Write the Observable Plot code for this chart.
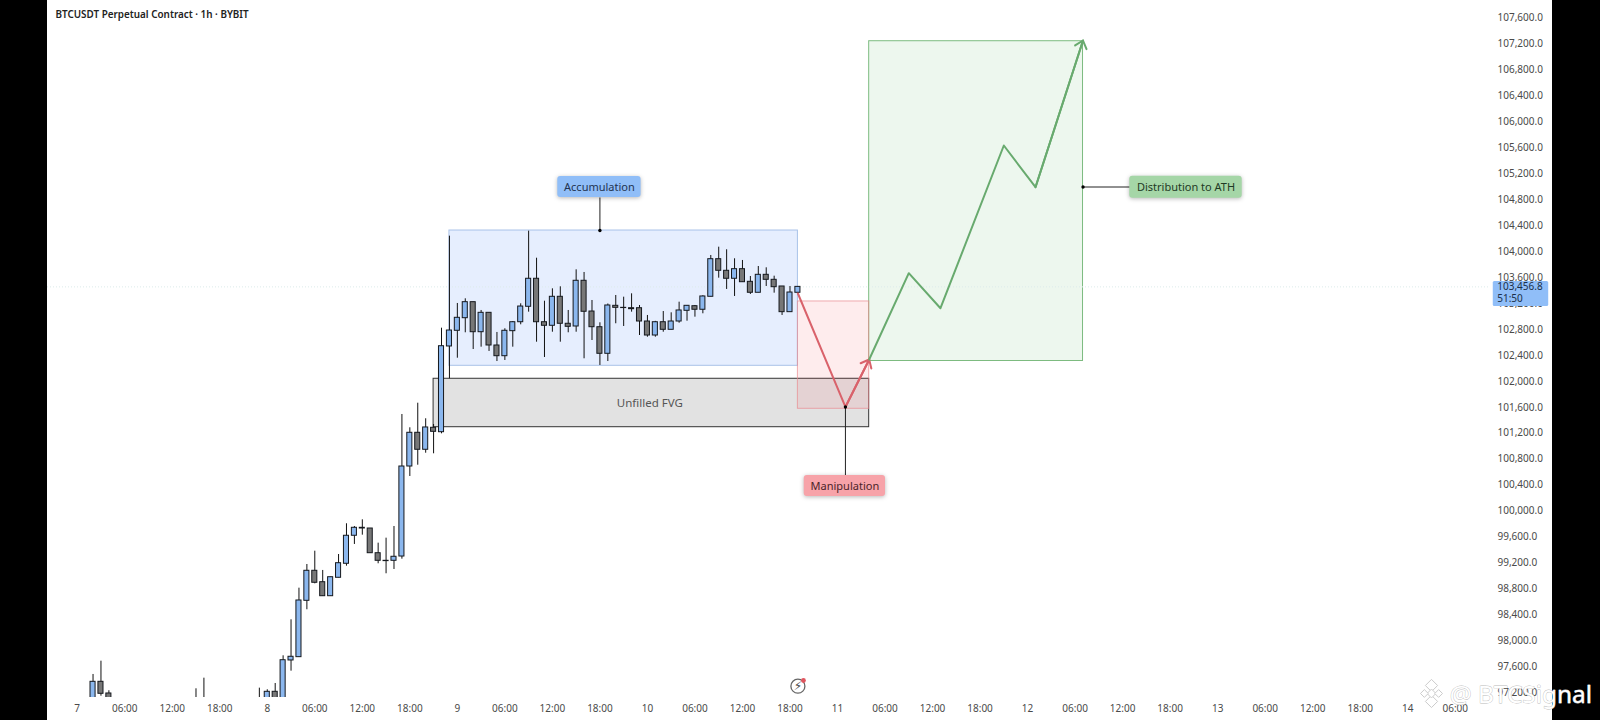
<!DOCTYPE html>
<html>
<head>
<meta charset="utf-8">
<script src="https://cdn.jsdelivr.net/npm/d3@7"></script>
<script src="https://cdn.jsdelivr.net/npm/@observablehq/plot@0.6"></script>
<style>
html,body{margin:0;padding:0;background:#fff;overflow:hidden}
svg{display:block}
.lab{filter:drop-shadow(0 1px 2px rgba(0,0,0,.28))}
</style>
</head>
<body>
<div id="chart"></div>
<script>
// Hours counted from day 7, 00:00
const hours = [2,3,4,15,16,23,24,25,26,27,28,29,30,31,32,33,34,35,36,37,38,39,40,41,42,43,44,45,46,47,48,49,50,51,52,53,54,55,56,57,58,59,60,61,62,63,64,65,66,67,68,69,70,71,72,73,74,75,76,77,78,79,80,81,82,83,84,85,86,87,88,89,90,91];
const opens = [97079,97367,97187,96900,96900,96900,97079,97213,97079,97696,97747,98616,99079,98903,98687,98971,99187,99619,99731,99731,99350,99233,99233,99299,100687,101207,100945,101284,101216,102538,102780,102974,103221,102758,103057,102553,102388,102774,102912,103150,103582,102912,102857,103304,102888,102846,103551,103077,102835,102425,103165,103134,103128,103128,102923,102707,102912,102795,102923,103088,103159,103104,103304,103884,103705,103582,103730,103535,103366,103643,103566,103463,103067,103366];
const closes = [97367,97182,97079,96850,96850,96850,97213,97079,97700,97753,98621,99079,98894,98687,98980,99196,99619,99742,99742,99350,99233,99228,99295,100687,101207,100945,101289,101222,102542,102784,102980,103221,102758,103057,102553,102388,102780,102912,103154,103582,102912,102857,103304,102888,102841,103551,103073,102835,102425,103170,103134,103130,103113,102923,102707,102912,102795,102923,103093,103165,103104,103309,103884,103705,103582,103730,103529,103366,103643,103566,103452,103067,103370,103457];
const highs = [97480,97685,97229,97259,97423,97269,97244,97341,97768,98323,98811,99176,99381,99084,98980,99330,99804,99762,99865,99731,99505,99582,99762,101489,101284,101663,101423,101335,102820,104239,103201,103273,103221,103093,103057,102754,102811,102923,103196,104316,103899,103236,103427,103458,103093,103720,103679,103247,102903,103193,103324,103298,103350,103170,103016,102925,103077,103057,103221,103170,103170,103320,103941,104069,104029,103890,103864,103617,103771,103751,103622,103463,103463,103463];
const lows = [97000,97145,97000,96800,96800,96800,97000,97000,97000,97531,97747,98478,98878,98687,98687,98971,99150,99485,99628,99350,99187,99033,99099,99258,100533,100707,100892,100883,101191,102040,102357,102749,102491,102527,102461,102306,102322,102527,102872,103067,102604,102368,102758,102604,102749,102758,102348,102630,102245,102306,102888,102846,103067,102707,102681,102681,102758,102795,102897,102928,102990,103042,103304,103591,103417,103309,103529,103340,103366,103463,103360,103016,103067,103355];

const priceTicks = [97200,97600,98000,98400,98800,99200,99600,100000,100400,100800,101200,101600,102000,102400,102800,103200,103600,104000,104400,104800,105200,105600,106000,106400,106800,107200,107600];
const timeTicks = [0,6,12,18,24,30,36,42,48,54,60,66,72,78,84,90,96,102,108,114,120,126,132,138,144,150,156,162,168,174];
const timeLabels = ["7","06:00","12:00","18:00","8","06:00","12:00","18:00","9","06:00","12:00","18:00","10","06:00","12:00","18:00","11","06:00","12:00","18:00","12","06:00","12:00","18:00","13","06:00","12:00","18:00","14","06:00"];

const lastPrice = 103456.8;
const zoneHours = {accumulation:[47,91], fvg:[45,100], red:[91,100], green:[100,127]};
const zonePrices = {accumulation:[102240,104326], fvg:[101293,102040], red:[101577,103232], green:[102314,107245]};
const redPathHours = [91,97,100];
const redPathPrices = [103355,101605,102337];
const greenPathHours = [100,105,109,117,121,127];
const greenPathPrices = [102337,103668,103128,105637,104994,107256];

const candles = hours.map((h,i)=>({h,open:opens[i],close:closes[i],high:highs[i],low:lows[i],up:closes[i]>=opens[i]}));
const redPath = redPathHours.map((h,i)=>({h,p:redPathPrices[i]}));
const greenPath = greenPathHours.map((h,i)=>({h,p:greenPathPrices[i]}));
const zone = (k,fill,stroke)=>Plot.rect([k],{x1:d=>zoneHours[d][0],x2:d=>zoneHours[d][1],y1:d=>zonePrices[d][0],y2:d=>zonePrices[d][1],fill,stroke,strokeWidth:1});
const font = "Noto Sans";
const callouts = [
  {t:"Accumulation",h1:60.68,h2:71.2,p1:104835,p2:105159,fill:"#90bef8",color:"#1f3350"},
  {t:"Manipulation",h1:91.8,h2:102.06,p1:100225,p2:100548,fill:"#f7a3a9",color:"#4b2328"},
  {t:"Distribution to ATH",h1:132.9,h2:147.1,p1:104824,p2:105164,fill:"#a5d6a7",color:"#1f3a25"}
];
const links = [
  {h1:66,h2:66,p1:104326,p2:104835},
  {h1:97,h2:97,p1:100548,p2:101605},
  {h1:127,h2:133,p1:104997,p2:104997}
];
const anchors = [{h:66,p:104326},{h:97,p:101605},{h:127,p:104997}];
const logoParts = [{h:171,p:97187,r:4},{h:170.1,p:97187,r:3.5},{h:171.9,p:97187,r:3.5},{h:171,p:97310,r:5.5},{h:171,p:97064,r:5.5}];

const arrow = (a,b,stroke)=>Plot.arrow([{a,b}],{x1:d=>d.a.h,y1:d=>d.a.p,x2:d=>d.b.h,y2:d=>d.b.p,stroke,strokeWidth:2,headLength:7,headAngle:80});

const chart = Plot.plot({
  width:1600,height:720,marginLeft:47,marginRight:110,marginTop:0,marginBottom:23,
  style:{background:"linear-gradient(to right,#000 47px,#fff 47px,#fff 1552px,#000 1552px)",fontFamily:font,overflow:"hidden"},
  x:{type:"linear",domain:[-3.75,178.45]},
  y:{type:"linear",domain:[97125,107873]},
  marks:[
    zone("accumulation","#e6eefe","#a9c2e8"),
    zone("fvg","#e2e2e2","#333"),
    zone("green","#edf7ee","#7dbb80"),
    Plot.rect(["red"],{x1:d=>zoneHours[d][0],x2:d=>zoneHours[d][1],y1:d=>zonePrices[d][0],y2:d=>zonePrices[d][1],fill:"#f7525f",fillOpacity:.11,stroke:"#e88a90",strokeOpacity:.7}),
    Plot.ruleY([lastPrice],{stroke:"#dcebea",strokeDasharray:"1,2",strokeWidth:1}),
    Plot.ruleX(candles,{x:"h",y1:"low",y2:"high",stroke:"#111",strokeWidth:1,clip:true}),
    Plot.rect(candles,{x1:d=>d.h-.32,x2:d=>d.h+.32,y1:"open",y2:"close",fill:d=>d.up?"#8bb7ee":"#777",stroke:"#15181d",strokeWidth:1,clip:true}),
    Plot.line(redPath,{x:"h",y:"p",stroke:"#d9626b",strokeWidth:2}),
    arrow(redPath[1],redPath[2],"#d9626b"),
    Plot.line(greenPath,{x:"h",y:"p",stroke:"#68aa6e",strokeWidth:2}),
    arrow(greenPath[4],greenPath[5],"#68aa6e"),
    Plot.link(links,{x1:"h1",x2:"h2",y1:"p1",y2:"p2",stroke:"#222",strokeWidth:1}),
    Plot.dot(anchors,{x:"h",y:"p",r:1.7,fill:"#000"}),
    Plot.rect(callouts,{x1:"h1",x2:"h2",y1:"p1",y2:"p2",fill:"fill",rx:3,className:"lab"}),
    Plot.text(callouts,{x:d=>(d.h1+d.h2)/2,y:d=>(d.p1+d.p2)/2,text:"t",fill:"color",fontSize:11,fontFamily:font}),
    Plot.text(["Unfilled FVG"],{x:()=>72.3,y:()=>101665,fill:"#555",fontSize:11.5,fontFamily:font}),
    Plot.text(["BTCUSDT Perpetual Contract · 1h · BYBIT"],{x:()=>-2.74,y:()=>107657,textAnchor:"start",fill:"#222",fontSize:9.9,fontWeight:600,fontFamily:font}),
    Plot.axisY({anchor:"right",ticks:priceTicks,tickSize:0,tickPadding:7,label:null,tickFormat:d3.format(",.1f"),fill:"#4a4a4a",fontSize:10,fontFamily:font}),
    Plot.axisX({anchor:"bottom",ticks:timeTicks,tickSize:0,tickPadding:7,label:null,tickFormat:d=>timeLabels[timeTicks.indexOf(d)],fill:"#4a4a4a",fontSize:10,fontFamily:font}),
    Plot.rect(["tag"],{x1:()=>178.8,x2:()=>185.8,y1:()=>103154,y2:()=>103540,fill:"#90bef8",rx:1.5}),
    Plot.text([d3.format(",.1f")(lastPrice)],{x:()=>179.3,y:()=>lastPrice,textAnchor:"start",fill:"#1a2f4a",fontSize:10,fontFamily:font}),
    Plot.text(["51:50"],{x:()=>179.3,y:()=>103270,textAnchor:"start",fill:"#1a2f4a",fontSize:10,fontFamily:font}),
    Plot.dot([0],{x:()=>91,y:()=>97300,r:7,fill:"#fff",stroke:"#666",strokeWidth:1.3}),
    Plot.text(["\u26A1\uFE0E"],{x:()=>91,y:()=>97300,fill:"#444",fontSize:12,fontFamily:"DejaVu Sans"}),
    Plot.dot([0],{x:()=>91.7,y:()=>97387,r:2.4,fill:"#e0565f"}),
    Plot.dot(logoParts,{x:"h",y:"p",r:"r",symbol:"diamond2",fill:"#fff",stroke:"#ccc",strokeWidth:1}),
    Plot.text(["@ BTCSignal"],{x:()=>173.3,y:()=>97156,textAnchor:"start",fill:"#fff",stroke:"#bbb",strokeWidth:.8,paintOrder:"stroke",fontSize:24.4,fontFamily:font})
  ],
  r:{type:"identity"}
});
document.getElementById("chart").append(chart);
</script>
</body>
</html>
